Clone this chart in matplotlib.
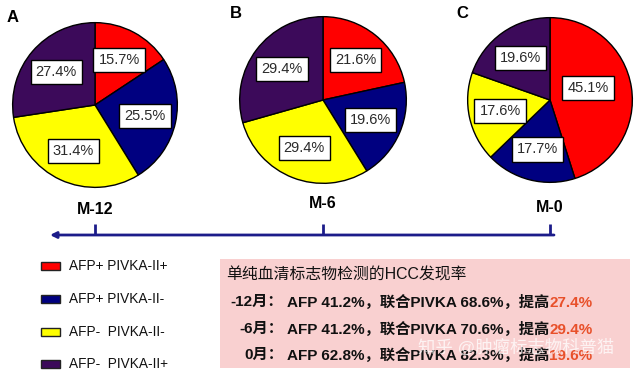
import matplotlib.pyplot as plt
from matplotlib.patches import Rectangle

plt.rcParams['font.family'] = ['Liberation Sans', 'Noto Sans CJK SC', 'DejaVu Sans']

# -------------------------
# data
# -------------------------
categories = ["AFP+ PIVKA-II+", "AFP+ PIVKA-II-", "AFP-  PIVKA-II-", "AFP-  PIVKA-II+"]
colors = ["#ff0000", "#000080", "#ffff00", "#3c0a5a"]

panel_letters = ["A", "B", "C"]
time_labels = ["M-12", "M-6", "M-0"]
share_m12 = [15.7, 25.5, 31.4, 27.4]
share_m6 = [21.6, 19.6, 29.4, 29.4]
share_m0 = [45.1, 17.7, 17.6, 19.6]

row_labels = ["-12月：", "-6月：", "0月："]
afp_rate = [41.2, 41.2, 62.8]
combined_rate = [68.6, 70.6, 82.3]
gain = [27.4, 29.4, 19.6]

W, H = 640, 376
fig = plt.figure(figsize=(W / 100, H / 100), dpi=100)

# background axes in pixel coords (y down)
ax = fig.add_axes([0, 0, 1, 1])
ax.set_xlim(0, W)
ax.set_ylim(H, 0)
ax.axis("off")

# -------------------------
# pies
# -------------------------
pies = [((95, 105), 84, share_m12), ((323, 100), 85, share_m6), ((550, 100), 84, share_m0)]
letter_pos = [(13, 18), (236, 13), (462, 13)]
time_pos = [(95, 210), (323, 203), (550, 208)]

for i, ((cx, cy), r, vals) in enumerate(pies):
    pax = fig.add_axes([(cx - r) / W, (H - cy - r) / H, 2 * r / W, 2 * r / H])
    wedges, texts, autotexts = pax.pie(
        vals, colors=colors, startangle=90, counterclock=False,
        autopct="%.1f%%", pctdistance=0.62,
        wedgeprops=dict(edgecolor="black", linewidth=1),
        textprops=dict(fontsize=10.5, color="#2a2a2a"))
    for t in autotexts:
        t.set_bbox(dict(facecolor="white", edgecolor="black", linewidth=1, pad=0.35, boxstyle="square"))
    if i == 2:
        x, y = autotexts[0].get_position()
        autotexts[0].set_position((x * 0.75, y * 0.9 + 0.06))
    pax.set_xlim(-1.02, 1.02)
    pax.set_ylim(-1.02, 1.02)
    pax.axis("off")

    lx, ly = letter_pos[i]
    ax.text(lx, ly, panel_letters[i], fontsize=12, fontweight="bold", ha="center", va="center")
    tx, ty = time_pos[i]
    ax.text(tx, ty, time_labels[i], fontsize=11.5, fontweight="bold", ha="center", va="center")

# -------------------------
# timeline arrow
# -------------------------
line_c = "#1c1c8a"
ax.annotate("", xy=(50, 235), xytext=(554, 235),
            arrowprops=dict(arrowstyle="-|>", color=line_c, lw=2, mutation_scale=9,
                            shrinkA=0, shrinkB=0))
for tx, _ in time_pos:
    ax.plot([tx, tx], [235, 224], color=line_c, lw=2, solid_capstyle="butt")

# -------------------------
# legend
# -------------------------
leg_y = [266, 299, 332, 364]
for c, lab, y in zip(colors, categories, leg_y):
    ax.add_patch(Rectangle((41, y - 4), 19, 8, facecolor=c, edgecolor="#222222", lw=1))
    ax.text(69, y, lab, fontsize=9.8, va="center", ha="left", color="#111111")

# -------------------------
# text box
# -------------------------
ax.add_patch(Rectangle((220, 259), 410, 109, facecolor="#f9d0d0", edgecolor="none"))
ax.text(226, 275, "单纯血清标志物检测的HCC发现率", fontsize=11.4, va="center", ha="left",
        color="#111111")
row_y = [302, 329, 355]
for lab, a, c, g, y in zip(row_labels, afp_rate, combined_rate, gain, row_y):
    ax.text(283, y, lab, fontsize=11, fontweight="bold", va="center", ha="right", color="#111111")
    t = ax.text(287, y, f"AFP {a}%，联合PIVKA {c}%，提高", fontsize=11, fontweight="bold",
                va="center", ha="left", color="#111111")
    ax.annotate(f"{g}%", xy=(1, 0), xycoords=t, va="bottom", ha="left",
                fontsize=11, fontweight="bold", color="#e8502a")

# watermark
ax.text(418, 347, "知乎 @肿瘤标志物科普猫", fontsize=12.5, va="center", ha="left",
        color="white", alpha=0.75)

fig.savefig("out.png", dpi=100)
